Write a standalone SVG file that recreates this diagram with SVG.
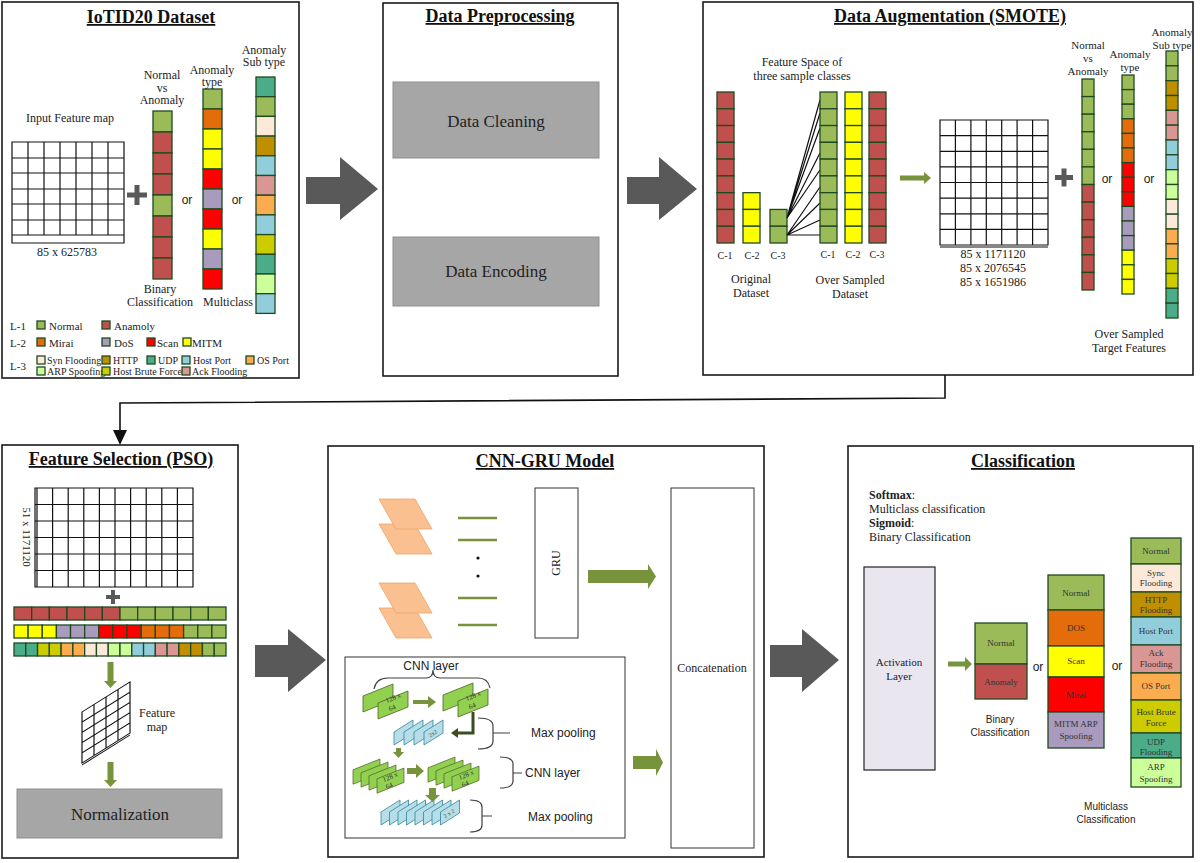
<svg xmlns="http://www.w3.org/2000/svg" width="1200" height="863" viewBox="0 0 1200 863">
<style>
.pn{fill:#fff;stroke:#1a1a1a;stroke-width:1.6}
.tt{font-family:"Liberation Serif",serif;font-weight:bold;font-size:18px;text-decoration:underline;text-anchor:middle;fill:#111}
.t{font-family:"Liberation Serif",serif;font-size:12px;fill:#222}
.m{text-anchor:middle}
.s{font-family:"Liberation Sans",sans-serif;font-size:12px;fill:#222}
.t.f10,.s.f10{font-size:10px}
.t.f11{font-size:11px}
.t.f17{font-size:17px}
.c{stroke:#1f4a1f;stroke-width:1.3}
.grid{fill:none;stroke:#111;stroke-width:1.2}
.ga{fill:#595959}
.gr{fill:#77933c}
.bx{fill:#fff;stroke:#333;stroke-width:1}
.br{fill:none;stroke:#404040;stroke-width:1.2}
.ct{font-family:"Liberation Serif",serif;font-size:9px;fill:#333;text-anchor:middle}
.ct.f7{font-size:7px}
.ct.f6{font-size:6px}
.G{fill:#9bbb59}.R{fill:#c0504d}.O{fill:#e46c0a}.Y{fill:#ffff00}.RR{fill:#ff0000}.P{fill:#a99bbd}
.CR{fill:#fde9d9}.GD{fill:#bf8f00}.TL{fill:#4bac89}.LB{fill:#92cddc}.PK{fill:#d99694}.LO{fill:#fbac4f}.OL{fill:#cccc00}.LG{fill:#ccff99}
</style>
<defs>
<polygon id="gp" points="0,12 30,0 30,16 0,28" fill="#92d050" stroke="#4f6228" stroke-width="0.8"/>
<polygon id="bp" points="0,12 19,0 19,13 0,25" fill="#b7dee8" stroke="#31859c" stroke-width="0.8"/>
<polygon id="op" points="0,0 36,0 53,30 17,30" fill="#fac090" stroke="#eba36b" stroke-width="0.8"/>
</defs>

<g id="iotid20">
<rect class="pn" x="2" y="2" width="297" height="376"/>
<text class="tt" x="151" y="23">IoTID20 Dataset</text>
<text class="t m" x="70" y="122">Input Feature map</text>
<path class="grid" d="M12,142H124V243H12Z M28,142V235 M44,142V235 M60,142V235 M76,142V235 M92,142V235 M108,142V235 M12,158H124 M12,173H124 M12,189H124 M12,204H124 M12,220H124 M12,235H124"/>
<text class="t m" x="67" y="256">85 x 625783</text>
<path class="ga" d="M127,192.5h20v5h-20z M134.5,185h5v20h-5z"/>
<text class="t m" x="162" y="79">Normal</text>
<text class="t m" x="162" y="92">vs</text>
<text class="t m" x="162" y="104">Anomaly</text>
<rect class="c G" x="153" y="111" width="19" height="21"/>
<rect class="c R" x="153" y="132" width="19" height="21"/>
<rect class="c R" x="153" y="153" width="19" height="21"/>
<rect class="c R" x="153" y="174" width="19" height="21"/>
<rect class="c G" x="153" y="195" width="19" height="21"/>
<rect class="c R" x="153" y="216" width="19" height="21"/>
<rect class="c R" x="153" y="237" width="19" height="21"/>
<rect class="c R" x="153" y="258" width="19" height="21"/>
<text class="t m" x="160" y="293">Binary</text>
<text class="t m" x="160" y="306">Classification</text>
<text class="s m" x="187" y="204">or</text>
<text class="t m" x="212" y="74">Anomaly</text>
<text class="t m" x="212" y="86">type</text>
<rect class="c G" x="203" y="89" width="19" height="20"/>
<rect class="c O" x="203" y="109" width="19" height="20"/>
<rect class="c Y" x="203" y="129" width="19" height="20"/>
<rect class="c Y" x="203" y="149" width="19" height="20"/>
<rect class="c RR" x="203" y="169" width="19" height="20"/>
<rect class="c P" x="203" y="189" width="19" height="20"/>
<rect class="c RR" x="203" y="209" width="19" height="20"/>
<rect class="c Y" x="203" y="229" width="19" height="20"/>
<rect class="c P" x="203" y="249" width="19" height="20"/>
<rect class="c RR" x="203" y="269" width="19" height="20"/>
<text class="t m" x="228" y="306">Multiclass</text>
<text class="s m" x="237" y="204">or</text>
<text class="t m" x="264" y="54">Anomaly</text>
<text class="t m" x="264" y="66">Sub type</text>
<rect class="c TL" x="256" y="77" width="19" height="19.7"/>
<rect class="c G" x="256" y="96.7" width="19" height="19.7"/>
<rect class="c CR" x="256" y="116.4" width="19" height="19.7"/>
<rect class="c GD" x="256" y="136.1" width="19" height="19.7"/>
<rect class="c LB" x="256" y="155.8" width="19" height="19.7"/>
<rect class="c PK" x="256" y="175.5" width="19" height="19.7"/>
<rect class="c LO" x="256" y="195.2" width="19" height="19.7"/>
<rect class="c LB" x="256" y="214.9" width="19" height="19.7"/>
<rect class="c OL" x="256" y="234.6" width="19" height="19.7"/>
<rect class="c TL" x="256" y="254.3" width="19" height="19.7"/>
<rect class="c LG" x="256" y="274" width="19" height="19.7"/>
<rect class="c LB" x="256" y="293.7" width="19" height="19.7"/>
<text class="t f11" x="10" y="330">L-1</text>
<rect class="c G" x="37" y="321" width="8" height="8"/>
<text class="t f11" x="49" y="330">Normal</text>
<rect class="c R" x="102" y="321" width="8" height="8"/>
<text class="t f11" x="114" y="330">Anamoly</text>
<text class="t f11" x="10" y="347">L-2</text>
<rect class="c O" x="37" y="338" width="8" height="8"/>
<text class="t f11" x="49" y="347">Mirai</text>
<rect class="c P" x="102" y="338" width="8" height="8"/>
<text class="t f11" x="114" y="347">DoS</text>
<rect class="c RR" x="147" y="338" width="8" height="8"/>
<text class="t f11" x="157" y="347">Scan</text>
<rect class="c Y" x="183" y="338" width="8" height="8"/>
<text class="t f11" x="192" y="347">MITM</text>
<text class="t f11" x="10" y="370">L-3</text>
<rect class="c CR" x="37" y="356" width="8" height="8"/>
<text class="t f10" x="47" y="364">Syn Flooding</text>
<rect class="c GD" x="102" y="356" width="8" height="8"/>
<text class="t f10" x="113" y="364">HTTP</text>
<rect class="c TL" x="147" y="356" width="8" height="8"/>
<text class="t f10" x="158" y="364">UDP</text>
<rect class="c LB" x="182" y="356" width="8" height="8"/>
<text class="t f10" x="193" y="364">Host Port</text>
<rect class="c LO" x="246" y="356" width="8" height="8"/>
<text class="t f10" x="257" y="364">OS Port</text>
<rect class="c LG" x="37" y="367" width="8" height="8"/>
<text class="t f10" x="47" y="375">ARP Spoofing</text>
<rect class="c OL" x="102" y="367" width="8" height="8"/>
<text class="t f10" x="113" y="375">Host Brute Force</text>
<rect class="c PK" x="182" y="367" width="8" height="8"/>
<text class="t f10" x="192" y="375">Ack Flooding</text>
</g>

<g id="preprocessing">
<rect class="pn" x="383" y="3" width="235" height="373"/>
<text class="tt" x="500" y="22">Data Preprocessing</text>
<rect x="393" y="82" width="206" height="76" fill="#a6a6a6" stroke="#8f8f8f"/>
<text class="t f17 m" x="496" y="127">Data Cleaning</text>
<rect x="393" y="237" width="206" height="69" fill="#a6a6a6" stroke="#8f8f8f"/>
<text class="t f17 m" x="496" y="277">Data Encoding</text>
</g>

<g id="smote">
<rect class="pn" x="703" y="2" width="490" height="373"/>
<text class="tt" x="950" y="22">Data Augmentation (SMOTE)</text>
<text class="t m" x="802" y="66">Feature Space of</text>
<text class="t m" x="802" y="80">three sample classes</text>
<rect class="c R" x="717" y="92" width="17" height="16.78"/>
<rect class="c R" x="717" y="108.78" width="17" height="16.78"/>
<rect class="c R" x="717" y="125.56" width="17" height="16.78"/>
<rect class="c R" x="717" y="142.33" width="17" height="16.78"/>
<rect class="c R" x="717" y="159.11" width="17" height="16.78"/>
<rect class="c R" x="717" y="175.89" width="17" height="16.78"/>
<rect class="c R" x="717" y="192.67" width="17" height="16.78"/>
<rect class="c R" x="717" y="209.44" width="17" height="16.78"/>
<rect class="c R" x="717" y="226.22" width="17" height="16.78"/>
<rect class="c Y" x="743" y="192.67" width="17" height="16.78"/>
<rect class="c Y" x="743" y="209.44" width="17" height="16.78"/>
<rect class="c Y" x="743" y="226.22" width="17" height="16.78"/>
<rect class="c G" x="770" y="209.44" width="17" height="16.78"/>
<rect class="c G" x="770" y="226.22" width="17" height="16.78"/>
<path d="M787,218L820,100 M787,218L820,113 M787,218L820,128 M787,218L820,153 M787,218L820,170 M787,235L820,187 M787,235L820,203 M787,235L820,220 M787,235L820,235" stroke="#111" stroke-width="1.2"/>
<rect class="c G" x="820" y="92" width="17" height="16.78"/>
<rect class="c G" x="820" y="108.78" width="17" height="16.78"/>
<rect class="c G" x="820" y="125.56" width="17" height="16.78"/>
<rect class="c G" x="820" y="142.33" width="17" height="16.78"/>
<rect class="c G" x="820" y="159.11" width="17" height="16.78"/>
<rect class="c G" x="820" y="175.89" width="17" height="16.78"/>
<rect class="c G" x="820" y="192.67" width="17" height="16.78"/>
<rect class="c G" x="820" y="209.44" width="17" height="16.78"/>
<rect class="c G" x="820" y="226.22" width="17" height="16.78"/>
<rect class="c Y" x="845" y="92" width="17" height="16.78"/>
<rect class="c Y" x="845" y="108.78" width="17" height="16.78"/>
<rect class="c Y" x="845" y="125.56" width="17" height="16.78"/>
<rect class="c Y" x="845" y="142.33" width="17" height="16.78"/>
<rect class="c Y" x="845" y="159.11" width="17" height="16.78"/>
<rect class="c Y" x="845" y="175.89" width="17" height="16.78"/>
<rect class="c Y" x="845" y="192.67" width="17" height="16.78"/>
<rect class="c Y" x="845" y="209.44" width="17" height="16.78"/>
<rect class="c Y" x="845" y="226.22" width="17" height="16.78"/>
<rect class="c R" x="869" y="92" width="17" height="16.78"/>
<rect class="c R" x="869" y="108.78" width="17" height="16.78"/>
<rect class="c R" x="869" y="125.56" width="17" height="16.78"/>
<rect class="c R" x="869" y="142.33" width="17" height="16.78"/>
<rect class="c R" x="869" y="159.11" width="17" height="16.78"/>
<rect class="c R" x="869" y="175.89" width="17" height="16.78"/>
<rect class="c R" x="869" y="192.67" width="17" height="16.78"/>
<rect class="c R" x="869" y="209.44" width="17" height="16.78"/>
<rect class="c R" x="869" y="226.22" width="17" height="16.78"/>
<text class="t f10 m" x="725" y="259">C-1</text>
<text class="t f10 m" x="752" y="259">C-2</text>
<text class="t f10 m" x="778" y="259">C-3</text>
<text class="t f10 m" x="828" y="258">C-1</text>
<text class="t f10 m" x="853" y="258">C-2</text>
<text class="t f10 m" x="877" y="258">C-3</text>
<text class="t m" x="751" y="283">Original</text>
<text class="t m" x="751" y="297">Dataset</text>
<text class="t m" x="850" y="284">Over Sampled</text>
<text class="t m" x="850" y="298">Dataset</text>
<path class="grid" d="M940,120H1048V245H940Z M940,247H1048 M955.4,120V245 M970.9,120V245 M986.3,120V245 M1001.7,120V245 M1017.1,120V245 M1032.6,120V245 M940,135.6H1048 M940,151.3H1048 M940,166.9H1048 M940,182.5H1048 M940,198.1H1048 M940,213.8H1048 M940,229.4H1048"/>
<text class="t m" x="993" y="258">85 x 1171120</text>
<text class="t m" x="993" y="272">85 x 2076545</text>
<text class="t m" x="993" y="286">85 x 1651986</text>
<path class="ga" d="M1055,175h18v5h-18z M1061.5,168.5h5v18h-5z"/>
<text class="t f11 m" x="1088" y="49">Normal</text>
<text class="t f11 m" x="1088" y="62">vs</text>
<text class="t f11 m" x="1088" y="75">Anomaly</text>
<rect class="c G" x="1082" y="79" width="12" height="17.58"/>
<rect class="c G" x="1082" y="96.58" width="12" height="17.58"/>
<rect class="c G" x="1082" y="114.17" width="12" height="17.58"/>
<rect class="c G" x="1082" y="131.75" width="12" height="17.58"/>
<rect class="c G" x="1082" y="149.33" width="12" height="17.58"/>
<rect class="c G" x="1082" y="166.92" width="12" height="17.58"/>
<rect class="c R" x="1082" y="184.5" width="12" height="17.58"/>
<rect class="c R" x="1082" y="202.08" width="12" height="17.58"/>
<rect class="c R" x="1082" y="219.67" width="12" height="17.58"/>
<rect class="c R" x="1082" y="237.25" width="12" height="17.58"/>
<rect class="c R" x="1082" y="254.83" width="12" height="17.58"/>
<rect class="c R" x="1082" y="272.42" width="12" height="17.58"/>
<text class="s m" x="1107" y="183">or</text>
<text class="t f11 m" x="1130" y="58">Anomaly</text>
<text class="t f11 m" x="1130" y="71">type</text>
<rect class="c G" x="1122" y="75" width="12" height="14.6"/>
<rect class="c G" x="1122" y="89.6" width="12" height="14.6"/>
<rect class="c G" x="1122" y="104.2" width="12" height="14.6"/>
<rect class="c O" x="1122" y="118.8" width="12" height="14.6"/>
<rect class="c O" x="1122" y="133.4" width="12" height="14.6"/>
<rect class="c O" x="1122" y="148" width="12" height="14.6"/>
<rect class="c RR" x="1122" y="162.6" width="12" height="14.6"/>
<rect class="c RR" x="1122" y="177.2" width="12" height="14.6"/>
<rect class="c RR" x="1122" y="191.8" width="12" height="14.6"/>
<rect class="c P" x="1122" y="206.4" width="12" height="14.6"/>
<rect class="c P" x="1122" y="221" width="12" height="14.6"/>
<rect class="c P" x="1122" y="235.6" width="12" height="14.6"/>
<rect class="c Y" x="1122" y="250.2" width="12" height="14.6"/>
<rect class="c Y" x="1122" y="264.8" width="12" height="14.6"/>
<rect class="c Y" x="1122" y="279.4" width="12" height="14.6"/>
<text class="s m" x="1149" y="183">or</text>
<text class="t f11 m" x="1172" y="36">Anomaly</text>
<text class="t f11 m" x="1172" y="49">Sub type</text>
<rect class="c G" x="1166" y="51" width="12" height="14.83"/>
<rect class="c G" x="1166" y="65.83" width="12" height="14.83"/>
<rect class="c GD" x="1166" y="80.67" width="12" height="14.83"/>
<rect class="c GD" x="1166" y="95.5" width="12" height="14.83"/>
<rect class="c PK" x="1166" y="110.33" width="12" height="14.83"/>
<rect class="c PK" x="1166" y="125.17" width="12" height="14.83"/>
<rect class="c LB" x="1166" y="140" width="12" height="14.83"/>
<rect class="c LB" x="1166" y="154.83" width="12" height="14.83"/>
<rect class="c LG" x="1166" y="169.67" width="12" height="14.83"/>
<rect class="c LG" x="1166" y="184.5" width="12" height="14.83"/>
<rect class="c CR" x="1166" y="199.33" width="12" height="14.83"/>
<rect class="c CR" x="1166" y="214.17" width="12" height="14.83"/>
<rect class="c LO" x="1166" y="229" width="12" height="14.83"/>
<rect class="c LO" x="1166" y="243.83" width="12" height="14.83"/>
<rect class="c OL" x="1166" y="258.67" width="12" height="14.83"/>
<rect class="c OL" x="1166" y="273.5" width="12" height="14.83"/>
<rect class="c TL" x="1166" y="288.33" width="12" height="14.83"/>
<rect class="c TL" x="1166" y="303.17" width="12" height="14.83"/>
<text class="t m" x="1129" y="338">Over Sampled</text>
<text class="t m" x="1129" y="352">Target Features</text>
</g>

<g id="pso">
<rect class="pn" x="2" y="445" width="236" height="413"/>
<text class="tt" x="121" y="465">Feature Selection (PSO)</text>
<path class="grid" d="M35,488H193V587H35Z M37,488V587 M52.6,488V587 M68.2,488V587 M83.8,488V587 M99.4,488V587 M115,488V587 M130.6,488V587 M146.2,488V587 M161.8,488V587 M177.4,488V587 M35,504.5H193 M35,521H193 M35,537.5H193 M35,554H193 M35,570.5H193"/>
<text class="t f11 m" transform="translate(23,537) rotate(90)">51 x 1171120</text>
<path class="ga" d="M106,595h14v4h-14z M111,590h4v14h-4z"/>
<rect class="c R" x="14" y="607" width="17.67" height="13"/>
<rect class="c R" x="31.67" y="607" width="17.67" height="13"/>
<rect class="c R" x="49.33" y="607" width="17.67" height="13"/>
<rect class="c R" x="67" y="607" width="17.67" height="13"/>
<rect class="c R" x="84.67" y="607" width="17.67" height="13"/>
<rect class="c R" x="102.33" y="607" width="17.67" height="13"/>
<rect class="c G" x="120" y="607" width="17.67" height="13"/>
<rect class="c G" x="137.67" y="607" width="17.67" height="13"/>
<rect class="c G" x="155.33" y="607" width="17.67" height="13"/>
<rect class="c G" x="173" y="607" width="17.67" height="13"/>
<rect class="c G" x="190.67" y="607" width="17.67" height="13"/>
<rect class="c G" x="208.33" y="607" width="17.67" height="13"/>
<rect class="c Y" x="14" y="625" width="14.13" height="13"/>
<rect class="c Y" x="28.13" y="625" width="14.13" height="13"/>
<rect class="c Y" x="42.27" y="625" width="14.13" height="13"/>
<rect class="c P" x="56.4" y="625" width="14.13" height="13"/>
<rect class="c P" x="70.53" y="625" width="14.13" height="13"/>
<rect class="c P" x="84.67" y="625" width="14.13" height="13"/>
<rect class="c RR" x="98.8" y="625" width="14.13" height="13"/>
<rect class="c RR" x="112.93" y="625" width="14.13" height="13"/>
<rect class="c RR" x="127.07" y="625" width="14.13" height="13"/>
<rect class="c O" x="141.2" y="625" width="14.13" height="13"/>
<rect class="c O" x="155.33" y="625" width="14.13" height="13"/>
<rect class="c O" x="169.47" y="625" width="14.13" height="13"/>
<rect class="c G" x="183.6" y="625" width="14.13" height="13"/>
<rect class="c G" x="197.73" y="625" width="14.13" height="13"/>
<rect class="c G" x="211.87" y="625" width="14.13" height="13"/>
<rect class="c TL" x="14" y="643" width="11.78" height="13"/>
<rect class="c TL" x="25.78" y="643" width="11.78" height="13"/>
<rect class="c OL" x="37.56" y="643" width="11.78" height="13"/>
<rect class="c OL" x="49.33" y="643" width="11.78" height="13"/>
<rect class="c LO" x="61.11" y="643" width="11.78" height="13"/>
<rect class="c LO" x="72.89" y="643" width="11.78" height="13"/>
<rect class="c CR" x="84.67" y="643" width="11.78" height="13"/>
<rect class="c CR" x="96.44" y="643" width="11.78" height="13"/>
<rect class="c LG" x="108.22" y="643" width="11.78" height="13"/>
<rect class="c LG" x="120" y="643" width="11.78" height="13"/>
<rect class="c LB" x="131.78" y="643" width="11.78" height="13"/>
<rect class="c LB" x="143.56" y="643" width="11.78" height="13"/>
<rect class="c PK" x="155.33" y="643" width="11.78" height="13"/>
<rect class="c PK" x="167.11" y="643" width="11.78" height="13"/>
<rect class="c GD" x="178.89" y="643" width="11.78" height="13"/>
<rect class="c GD" x="190.67" y="643" width="11.78" height="13"/>
<rect class="c G" x="202.44" y="643" width="11.78" height="13"/>
<rect class="c G" x="214.22" y="643" width="11.78" height="13"/>
<g transform="matrix(1,-0.625,0,1,82,712)">
<path class="grid" d="M0,0H48V51H0Z M0,53H48 M12,0V51 M24,0V51 M36,0V51 M0,10.2H48 M0,20.4H48 M0,30.6H48 M0,40.8H48"/>
</g>
<text class="t m" x="157" y="717">Feature</text>
<text class="t m" x="157" y="731">map</text>
<rect x="17" y="789" width="205" height="49" fill="#a6a6a6" stroke="#8f8f8f"/>
<text class="t f17 m" x="120" y="820">Normalization</text>
</g>

<g id="cnn-gru">
<rect class="pn" x="328" y="446" width="436" height="411"/>
<text class="tt" x="545" y="467">CNN-GRU Model</text>
<use href="#op" x="379" y="524"/>
<use href="#op" x="379" y="499"/>
<use href="#op" x="379" y="608"/>
<use href="#op" x="379" y="583"/>
<path d="M458,518H497 M458,540H497 M458,598H497 M458,625H497" stroke="#77933c" stroke-width="2.5"/>
<circle cx="478" cy="558" r="1.6" fill="#111"/>
<circle cx="478" cy="576" r="1.6" fill="#111"/>
<rect class="bx" x="535" y="488" width="43" height="150"/>
<text class="t m" transform="translate(560,563) rotate(-90)">GRU</text>
<rect class="bx" x="671" y="488" width="83" height="360"/>
<text class="t m" x="712" y="672">Concatenation</text>
<rect class="bx" x="345" y="657" width="280" height="181"/>
<text class="s m" x="431" y="670">CNN layer</text>
<path class="br" d="M374,689Q376,678 388,678H426Q433,678 433,670Q433,678 440,678H478Q488,678 490,688"/>
<use href="#gp" x="363" y="684"/>
<use href="#gp" x="378" y="691"/>
<text class="ct f7" transform="translate(394,700) rotate(-22)">128 x</text>
<text class="ct f7" transform="translate(393,710) rotate(-22)">64</text>
<use href="#gp" x="443" y="683"/>
<use href="#gp" x="458" y="689"/>
<text class="ct f7" transform="translate(474,698) rotate(-22)">128 x</text>
<text class="ct f7" transform="translate(473,708) rotate(-22)">64</text>
<use href="#bp" x="394" y="720"/>
<use href="#bp" x="404" y="720"/>
<use href="#bp" x="414" y="720"/>
<use href="#bp" x="424" y="720"/>
<text class="ct f6" transform="translate(434,735) rotate(-32)">2x2</text>
<path class="br" d="M478,718Q493,718 493,726V733H510M493,733V741Q493,749 478,749"/>
<text class="s" x="531" y="737">Max pooling</text>
<g transform="translate(353,759) scale(.9)"><use href="#gp"/></g>
<g transform="translate(361,762) scale(.9)"><use href="#gp"/></g>
<g transform="translate(369,765) scale(.9)"><use href="#gp"/></g>
<g transform="translate(377,768) scale(.9)"><use href="#gp"/></g>
<text class="ct f7" transform="translate(391,779) rotate(-22)">128 x</text>
<text class="ct f7" transform="translate(390,788) rotate(-22)">64</text>
<g transform="translate(428,757) scale(.9)"><use href="#gp"/></g>
<g transform="translate(436,760) scale(.9)"><use href="#gp"/></g>
<g transform="translate(444,763) scale(.9)"><use href="#gp"/></g>
<g transform="translate(452,766) scale(.9)"><use href="#gp"/></g>
<text class="ct f7" transform="translate(467,777) rotate(-22)">128 x</text>
<text class="ct f7" transform="translate(466,786) rotate(-22)">64</text>
<path class="br" d="M500,757Q513,757 513,764V773H522M513,773V781Q513,788 500,788"/>
<text class="s" x="525" y="777">CNN layer</text>
<use href="#bp" x="381" y="800"/>
<use href="#bp" x="389.5" y="800"/>
<use href="#bp" x="398" y="800"/>
<use href="#bp" x="406.5" y="800"/>
<use href="#bp" x="415" y="800"/>
<use href="#bp" x="423.5" y="800"/>
<use href="#bp" x="432" y="800"/>
<use href="#bp" x="440.5" y="800"/>
<text class="ct f6" transform="translate(450,815) rotate(-32)">2 x 2</text>
<path class="br" d="M470,800Q482,800 482,807V816H492M482,816V825Q482,832 470,832"/>
<text class="s" x="528" y="821">Max pooling</text>
</g>

<g id="classification">
<rect class="pn" x="848" y="446" width="345" height="411"/>
<text class="tt" x="1023" y="467">Classification</text>
<text class="t" x="869" y="499"><tspan font-weight="bold">Softmax</tspan>:</text>
<text class="t" x="869" y="513">Multiclass classification</text>
<text class="t" x="869" y="527"><tspan font-weight="bold">Sigmoid</tspan>:</text>
<text class="t" x="869" y="541">Binary Classification</text>
<rect x="864" y="567" width="71" height="203" fill="#e9e6ef" stroke="#222" stroke-width="1.2"/>
<text class="t f11 m" x="899" y="666">Activation</text>
<text class="t f11 m" x="899" y="680">Layer</text>
<rect class="c G" x="975" y="623" width="52" height="41"/>
<rect class="c R" x="975" y="664" width="52" height="35"/>
<text class="ct" x="1001" y="646">Normal</text>
<text class="ct" x="1001" y="685">Anomaly</text>
<text class="s f10 m" x="1000" y="723">Binary</text>
<text class="s f10 m" x="1000" y="736">Classification</text>
<text class="s m" x="1038" y="671">or</text>
<rect class="c G" x="1048" y="575" width="56" height="35"/>
<rect class="c O" x="1048" y="610" width="56" height="36"/>
<rect class="c Y" x="1048" y="646" width="56" height="31"/>
<rect class="c RR" x="1048" y="677" width="56" height="35"/>
<rect class="c P" x="1048" y="712" width="56" height="36"/>
<text class="ct" x="1076" y="596">Normal</text>
<text class="ct" x="1076" y="631">DOS</text>
<text class="ct" x="1076" y="664">Scan</text>
<text class="ct" x="1076" y="698">Mirai</text>
<text class="ct" x="1076" y="727">MITM ARP</text>
<text class="ct" x="1076" y="739">Spoofing</text>
<text class="s m" x="1117" y="670">or</text>
<rect class="c G" x="1131" y="538" width="50" height="26"/>
<rect class="c CR" x="1131" y="564" width="50" height="28"/>
<rect class="c GD" x="1131" y="592" width="50" height="25"/>
<rect class="c LB" x="1131" y="617" width="50" height="28"/>
<rect class="c PK" x="1131" y="645" width="50" height="28"/>
<rect class="c LO" x="1131" y="673" width="50" height="27"/>
<rect class="c OL" x="1131" y="700" width="50" height="33"/>
<rect class="c TL" x="1131" y="733" width="50" height="25"/>
<rect class="c LG" x="1131" y="758" width="50" height="29"/>
<text class="ct" x="1156" y="554">Normal</text>
<text class="ct" x="1156" y="576">Sync</text>
<text class="ct" x="1156" y="586">Flooding</text>
<text class="ct" x="1156" y="603">HTTP</text>
<text class="ct" x="1156" y="613">Flooding</text>
<text class="ct" x="1156" y="634">Host Port</text>
<text class="ct" x="1156" y="656">Ack</text>
<text class="ct" x="1156" y="667">Flooding</text>
<text class="ct" x="1156" y="689">OS Port</text>
<text class="ct" x="1156" y="715">Host Brute</text>
<text class="ct" x="1156" y="726">Force</text>
<text class="ct" x="1156" y="745">UDP</text>
<text class="ct" x="1156" y="755">Flooding</text>
<text class="ct" x="1156" y="770">ARP</text>
<text class="ct" x="1156" y="782">Spoofing</text>
<text class="s f10 m" x="1106" y="810">Multiclass</text>
<text class="s f10 m" x="1106" y="823">Classification</text>
</g>

<g id="connectors">
<polygon class="ga" points="306,177 340,177 340,157 378,189 340,220 340,204 306,204"/>
<polygon class="ga" points="627,177 659,177 659,157 697,189 659,220 659,204 627,204"/>
<polygon class="ga" points="255,645 288,645 288,629 326,660 288,692 288,677 255,677"/>
<polygon class="ga" points="770,645 802,645 802,629 839,660 802,692 802,677 770,677"/>
<path d="M945,375V398L120,403V431" fill="none" stroke="#111" stroke-width="1.6"/>
<polygon points="113,430 127,430 120,445" fill="#111"/>
<polygon class="gr" points="900,175.5 924,175.5 924,172 931,178 924,184 924,180.5 900,180.5"/>
<polygon class="gr" points="948,661.5 965,661.5 965,657 972,664 965,671 965,666.5 948,666.5"/>
<polygon class="gr" points="107.5,662 113.5,662 113.5,681 117,681 110.5,688 104,681 107.5,681"/>
<polygon class="gr" points="107.5,762 113.5,762 113.5,780 117,780 110.5,787 104,780 107.5,780"/>
<polygon class="gr" points="588,570 648,570 648,564 656,576.5 648,589 648,583 588,583"/>
<polygon class="gr" points="633,756 656,756 656,749 663,762.5 656,776 656,769 633,769"/>
<polygon class="gr" points="413,700 428,700 428,696 436,702 428,708 428,704 413,704"/>
<path d="M473,712V733H457" fill="none" stroke="#3b4d1e" stroke-width="3"/>
<polygon points="458,728 451,733 458,738" fill="#3b4d1e"/>
<polygon class="gr" points="396,748 401,748 401,752 404,752 398.5,758 393,752 396,752"/>
<polygon class="gr" points="407,768 416,768 416,764 424,771 416,778 416,774 407,774"/>
<polygon class="gr" points="429,788 436,788 436,795 440,795 432.5,802 425,795 429,795"/>
</g>
</svg>
